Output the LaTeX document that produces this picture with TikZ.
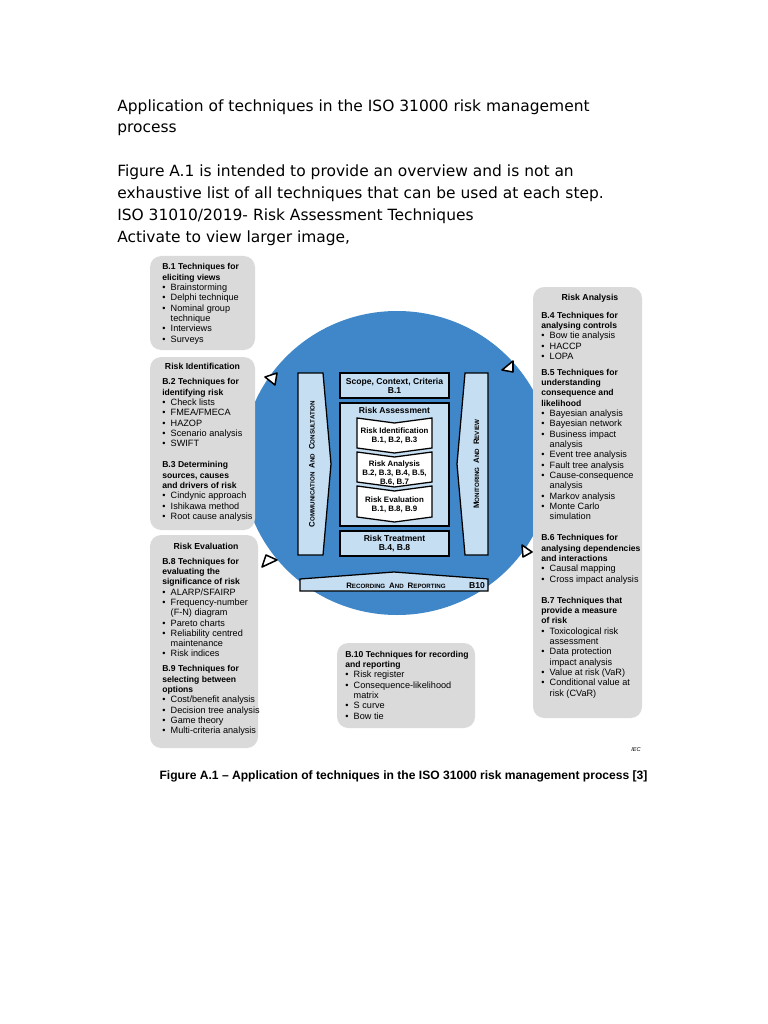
\documentclass[tikz,border=0pt]{standalone}
\usepackage{fontspec}
\setmainfont{DejaVu Sans}
\newfontfamily\figfont{Liberation Sans}
\usepackage{tikz}
\usetikzlibrary{positioning, calc}
\definecolor{isoblue}{RGB}{63,135,200}
\definecolor{isolight}{RGB}{198,222,242}
\definecolor{isogray}{RGB}{218,218,218}
\newcommand{\bul}{\makebox[6pt][l]{\textbullet}}
\newcommand{\ind}{\hspace*{6pt}}
\newcommand{\hd}[1]{{\fontsize{6.1}{7.34}\selectfont\bfseries #1}}
\newcommand{\smc}[2]{{\fontsize{5.6}{6}\selectfont #1}{\fontsize{4.4}{5}\selectfont #2}}

\begin{document}
\begin{tikzpicture}[x=0.025cm, y=-0.025cm,
    panel/.style={fill=isogray, rounded corners=8pt},
    paneltext/.style={anchor=north west, align=left, inner sep=0pt,
      font=\figfont\fontsize{6.5}{7.34}\selectfont},
    paneltitle/.style={inner sep=0pt, font=\figfont\bfseries\fontsize{6.2}{7.34}\selectfont},
    stage/.style={fill=isolight, draw=black, line width=0.9pt, line join=miter},
    chevron/.style={stage, fill=white},
    stagetext/.style={align=center, inner sep=0pt,
      font=\figfont\bfseries\fontsize{6.1}{6.4}\selectfont},
    steptext/.style={stagetext, font=\figfont\bfseries\fontsize{5.6}{6.3}\selectfont},
    sidetext/.style={rotate=90, inner sep=0pt, font=\figfont\bfseries},
    turn/.style={fill=white, draw=black, line width=1.1pt, line join=round},
    header/.style={anchor=north west, align=left, inner sep=0pt,
      font=\fontsize{11}{15.6}\selectfont}
  ]
  \useasboundingbox (0,0) rectangle (768,1024);
  \fill[white] (0,0) rectangle (768,1024);

  \node[header] (heading) at (117,99) {Application of techniques in the ISO 31000 risk management\\process};
  \node[header] (intro) at (117,164.2) {Figure A.1 is intended to provide an overview and is not an\\exhaustive list of all techniques that can be used at each step.\\ISO 31010/2019- Risk Assessment Techniques\\Activate to view larger image,};

  \fill[isoblue] (397,463) circle [x radius=155, y radius=152];

  \fill[panel] (150,256) rectangle (255,350);
  \fill[panel] (150,357) rectangle (255,530);
  \fill[panel] (150,535) rectangle (258,748);
  \fill[panel] (533,287) rectangle (642,718);
  \fill[panel] (337,643) rectangle (475,728);

  \node[paneltext] (elicit) at (162,263.5) {\hd{B.1 Techniques for}\\\hd{eliciting views}\\
    \bul Brainstorming\\\bul Delphi technique\\\bul Nominal group\\\ind technique\\
    \bul Interviews\\\bul Surveys};

  \node[paneltitle] (identtitle) at (202.5,366) {Risk Identification};
  \node[paneltext] (ident) at (162,378.5) {\hd{B.2 Techniques for}\\\hd{identifying risk}\\
    \bul Check lists\\\bul FMEA/FMECA\\\bul HAZOP\\\bul Scenario analysis\\\bul SWIFT\\[7.6pt]
    \hd{B.3 Determining}\\\hd{sources, causes}\\\hd{and drivers of risk}\\
    \bul Cindynic approach\\\bul Ishikawa method\\\bul Root cause analysis};

  \node[paneltitle] (evaltitle) at (206,546) {Risk Evaluation};
  \node[paneltext] (eval) at (162,557.6) {\hd{B.8 Techniques for}\\\hd{evaluating the}\\\hd{significance of risk}\\
    \bul ALARP/SFAIRP\\\bul Frequency-number\\\ind (F-N) diagram\\\bul Pareto charts\\
    \bul Reliability centred\\\ind maintenance\\\bul Risk indices\\[3.3pt]
    \hd{B.9 Techniques for}\\\hd{selecting between}\\\hd{options}\\
    \bul Cost/benefit analysis\\\bul Decision tree analysis\\\bul Game theory\\\bul Multi-criteria analysis};

  \node[paneltitle] (analtitle) at (590,298) {Risk Analysis};
  \node[paneltext] (anal) at (541,311.6) {\hd{B.4 Techniques for}\\\hd{analysing controls}\\
    \bul Bow tie analysis\\\bul HACCP\\\bul LOPA\\[4pt]
    \hd{B.5 Techniques for}\\\hd{understanding}\\\hd{consequence and}\\\hd{likelihood}\\
    \bul Bayesian analysis\\\bul Bayesian network\\\bul Business impact\\\ind analysis\\
    \bul Event tree analysis\\\bul Fault tree analysis\\\bul Cause-consequence\\\ind analysis\\
    \bul Markov analysis\\\bul Monte Carlo\\\ind simulation\\[7.6pt]
    \hd{B.6 Techniques for}\\\hd{analysing dependencies}\\\hd{and interactions}\\
    \bul Causal mapping\\\bul Cross impact analysis\\[7.6pt]
    \hd{B.7 Techniques that}\\\hd{provide a measure}\\\hd{of risk}\\
    \bul Toxicological risk\\\ind assessment\\\bul Data protection\\\ind impact analysis\\
    \bul Value at risk (VaR)\\\bul Conditional value at\\\ind risk (CVaR)};

  \node[paneltext] (record) at (345,650.6) {\hd{B.10 Techniques for recording}\\\hd{and reporting}\\
    \bul Risk register\\\bul Consequence-likelihood\\\ind matrix\\\bul S curve\\\bul Bow tie};

  \draw[stage] (298,373) -- (323,373) -- (331,464) -- (323,555) -- (298,555) -- cycle;
  \node[sidetext] (consult) at (312,464) {\smc{C}{OMMUNICATION} \smc{A}{ND} \smc{C}{ONSULTATION}};
  \draw[stage] (465,373) -- (488,373) -- (488,555) -- (465,555) -- (457,464) -- cycle;
  \node[sidetext] (monitor) at (476.5,464) {\smc{M}{ONITORING} \smc{A}{ND} \smc{R}{EVIEW}};

  \draw[stage] (340,373) rectangle (449,398);
  \node[stagetext] (scope) at (394.5,386) {Scope, Context, Criteria\\B.1};
  \draw[stage] (340,403) rectangle (449,526);
  \node[stagetext] (assess) at (394.5,410) {Risk Assessment};

  \draw[chevron] (357,418) -- (394.5,423) -- (432,418) -- (432,448) -- (394.5,453) -- (357,448) -- cycle;
  \node[steptext] (identstep) at (394.5,436) {Risk Identification\\B.1, B.2, B.3};
  \draw[chevron] (357,452) -- (394.5,457) -- (432,452) -- (432,482) -- (394.5,487) -- (357,482) -- cycle;
  \node[steptext] (analstep) at (394.5,473) {Risk Analysis\\B.2, B.3, B.4, B.5,\\B.6, B.7};
  \draw[chevron] (357,486) -- (394.5,491) -- (432,486) -- (432,517) -- (394.5,522) -- (357,517) -- cycle;
  \node[steptext] (evalstep) at (394.5,505) {Risk Evaluation\\B.1, B.8, B.9};

  \draw[stage] (340,531) rectangle (449,556);
  \node[stagetext] (treat) at (394.5,544) {Risk Treatment\\B.4, B.8};

  \draw[stage] (300,579) -- (394,572) -- (488,579) -- (488,591) -- (300,591) -- cycle;
  \node[sidetext, rotate=-90] (recbar) at (396,585.5) {\smc{R}{ECORDING} \smc{A}{ND} \smc{R}{EPORTING}};
  \node[stagetext] (recref) at (477,585.5) {B10};

  \draw[turn] (265,377) -- (277,373) -- (275,385) -- cycle;
  \draw[turn] (502,370) -- (513,361) -- (513,372) -- cycle;
  \draw[turn] (262,567) -- (266,555) -- (277,560) -- cycle;
  \draw[turn] (532,552) -- (522,545) -- (523,557) -- cycle;

  \node[inner sep=0pt, font=\figfont\itshape\fontsize{4}{5}\selectfont] (iec) at (636,750) {IEC};
  \node[inner sep=0pt, font=\figfont\bfseries\fontsize{8.6}{10}\selectfont] (caption) at (403.5,776)
    {Figure A.1 – Application of techniques in the ISO 31000 risk management process [3]};
\end{tikzpicture}
\end{document}
